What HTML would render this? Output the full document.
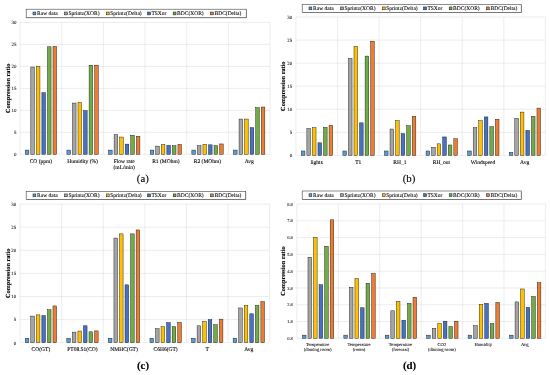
<!DOCTYPE html>
<html><head><meta charset="utf-8"><title>Compression ratio charts</title>
<style>
html,body{margin:0;padding:0;background:#fff;}
body{width:550px;height:375px;overflow:hidden;}
svg{display:block;text-rendering:geometricPrecision;font-family:"Liberation Serif","DejaVu Serif",serif;}
</style></head><body>
<svg width="550" height="375" viewBox="0 0 550 375">
<rect width="550" height="375" fill="#fff"/>
<g><line x1="20.1" y1="154.3" x2="270" y2="154.3" stroke="#D6D6D6" stroke-width="0.45"/>
<text x="16.4" y="156.12" font-size="4.9" text-anchor="end" fill="#111" stroke="#111" stroke-width="0.06">0</text>
<line x1="20.1" y1="132.32" x2="270" y2="132.32" stroke="#D6D6D6" stroke-width="0.45"/>
<text x="16.4" y="134.13" font-size="4.9" text-anchor="end" fill="#111" stroke="#111" stroke-width="0.06">5</text>
<line x1="20.1" y1="110.33" x2="270" y2="110.33" stroke="#D6D6D6" stroke-width="0.45"/>
<text x="16.4" y="112.15" font-size="4.9" text-anchor="end" fill="#111" stroke="#111" stroke-width="0.06">10</text>
<line x1="20.1" y1="88.35" x2="270" y2="88.35" stroke="#D6D6D6" stroke-width="0.45"/>
<text x="16.4" y="90.17" font-size="4.9" text-anchor="end" fill="#111" stroke="#111" stroke-width="0.06">15</text>
<line x1="20.1" y1="66.37" x2="270" y2="66.37" stroke="#D6D6D6" stroke-width="0.45"/>
<text x="16.4" y="68.18" font-size="4.9" text-anchor="end" fill="#111" stroke="#111" stroke-width="0.06">20</text>
<line x1="20.1" y1="44.38" x2="270" y2="44.38" stroke="#D6D6D6" stroke-width="0.45"/>
<text x="16.4" y="46.2" font-size="4.9" text-anchor="end" fill="#111" stroke="#111" stroke-width="0.06">25</text>
<line x1="20.1" y1="22.4" x2="270" y2="22.4" stroke="#D6D6D6" stroke-width="0.45"/>
<text x="16.4" y="24.22" font-size="4.9" text-anchor="end" fill="#111" stroke="#111" stroke-width="0.06">30</text>
<line x1="20.1" y1="22.4" x2="20.1" y2="154.3" stroke="#D6D6D6" stroke-width="0.45"/>
<line x1="61.75" y1="22.4" x2="61.75" y2="154.3" stroke="#D6D6D6" stroke-width="0.45"/>
<line x1="103.4" y1="22.4" x2="103.4" y2="154.3" stroke="#D6D6D6" stroke-width="0.45"/>
<line x1="145.05" y1="22.4" x2="145.05" y2="154.3" stroke="#D6D6D6" stroke-width="0.45"/>
<line x1="186.7" y1="22.4" x2="186.7" y2="154.3" stroke="#D6D6D6" stroke-width="0.45"/>
<line x1="228.35" y1="22.4" x2="228.35" y2="154.3" stroke="#D6D6D6" stroke-width="0.45"/>
<line x1="270" y1="22.4" x2="270" y2="154.3" stroke="#D6D6D6" stroke-width="0.45"/>
<rect x="25.25" y="150.1" width="3.6" height="4.2" fill="#5B9BD5" stroke="#151515" stroke-width="0.44"/>
<rect x="30.8" y="67.01" width="3.6" height="87.29" fill="#A5A5A5" stroke="#151515" stroke-width="0.44"/>
<rect x="36.35" y="66.35" width="3.6" height="87.95" fill="#FFC000" stroke="#151515" stroke-width="0.44"/>
<rect x="41.9" y="92.73" width="3.6" height="61.57" fill="#4472C4" stroke="#151515" stroke-width="0.44"/>
<rect x="47.45" y="46.78" width="3.6" height="107.52" fill="#70AD47" stroke="#151515" stroke-width="0.44"/>
<rect x="53" y="46.34" width="3.6" height="107.96" fill="#ED7D31" stroke="#151515" stroke-width="0.44"/>
<rect x="66.9" y="150.1" width="3.6" height="4.2" fill="#5B9BD5" stroke="#151515" stroke-width="0.44"/>
<rect x="72.45" y="103.06" width="3.6" height="51.24" fill="#A5A5A5" stroke="#151515" stroke-width="0.44"/>
<rect x="78" y="102.62" width="3.6" height="51.68" fill="#FFC000" stroke="#151515" stroke-width="0.44"/>
<rect x="83.55" y="110.71" width="3.6" height="43.59" fill="#4472C4" stroke="#151515" stroke-width="0.44"/>
<rect x="89.1" y="65.25" width="3.6" height="89.05" fill="#70AD47" stroke="#151515" stroke-width="0.44"/>
<rect x="94.65" y="65.25" width="3.6" height="89.05" fill="#ED7D31" stroke="#151515" stroke-width="0.44"/>
<rect x="108.55" y="150.1" width="3.6" height="4.2" fill="#5B9BD5" stroke="#151515" stroke-width="0.44"/>
<rect x="114.1" y="134.72" width="3.6" height="19.59" fill="#A5A5A5" stroke="#151515" stroke-width="0.44"/>
<rect x="119.65" y="137.05" width="3.6" height="17.25" fill="#FFC000" stroke="#151515" stroke-width="0.44"/>
<rect x="125.2" y="144.12" width="3.6" height="10.18" fill="#4472C4" stroke="#151515" stroke-width="0.44"/>
<rect x="130.75" y="135.24" width="3.6" height="19.06" fill="#70AD47" stroke="#151515" stroke-width="0.44"/>
<rect x="136.3" y="136.25" width="3.6" height="18.05" fill="#ED7D31" stroke="#151515" stroke-width="0.44"/>
<rect x="150.2" y="150.1" width="3.6" height="4.2" fill="#5B9BD5" stroke="#151515" stroke-width="0.44"/>
<rect x="155.75" y="146.15" width="3.6" height="8.15" fill="#A5A5A5" stroke="#151515" stroke-width="0.44"/>
<rect x="161.3" y="144.61" width="3.6" height="9.69" fill="#FFC000" stroke="#151515" stroke-width="0.44"/>
<rect x="166.85" y="145.4" width="3.6" height="8.9" fill="#4472C4" stroke="#151515" stroke-width="0.44"/>
<rect x="172.4" y="145.71" width="3.6" height="8.59" fill="#70AD47" stroke="#151515" stroke-width="0.44"/>
<rect x="177.95" y="144.39" width="3.6" height="9.91" fill="#ED7D31" stroke="#151515" stroke-width="0.44"/>
<rect x="191.85" y="150.1" width="3.6" height="4.2" fill="#5B9BD5" stroke="#151515" stroke-width="0.44"/>
<rect x="197.4" y="145.71" width="3.6" height="8.59" fill="#A5A5A5" stroke="#151515" stroke-width="0.44"/>
<rect x="202.95" y="144.39" width="3.6" height="9.91" fill="#FFC000" stroke="#151515" stroke-width="0.44"/>
<rect x="208.5" y="144.83" width="3.6" height="9.47" fill="#4472C4" stroke="#151515" stroke-width="0.44"/>
<rect x="214.05" y="145.71" width="3.6" height="8.59" fill="#70AD47" stroke="#151515" stroke-width="0.44"/>
<rect x="219.6" y="143.95" width="3.6" height="10.35" fill="#ED7D31" stroke="#151515" stroke-width="0.44"/>
<rect x="233.5" y="150.1" width="3.6" height="4.2" fill="#5B9BD5" stroke="#151515" stroke-width="0.44"/>
<rect x="239.05" y="119.06" width="3.6" height="35.24" fill="#A5A5A5" stroke="#151515" stroke-width="0.44"/>
<rect x="244.6" y="119.06" width="3.6" height="35.24" fill="#FFC000" stroke="#151515" stroke-width="0.44"/>
<rect x="250.15" y="127.68" width="3.6" height="26.62" fill="#4472C4" stroke="#151515" stroke-width="0.44"/>
<rect x="255.7" y="107.68" width="3.6" height="46.62" fill="#70AD47" stroke="#151515" stroke-width="0.44"/>
<rect x="261.25" y="107.02" width="3.6" height="47.28" fill="#ED7D31" stroke="#151515" stroke-width="0.44"/>
<text x="40.92" y="163" font-size="5.5" text-anchor="middle" fill="#000" stroke="#000" stroke-width="0.1">CO (ppm)</text>
<text x="82.57" y="163" font-size="5.5" text-anchor="middle" fill="#000" stroke="#000" stroke-width="0.1">Humidity (%)</text>
<text x="124.22" y="163" font-size="5.5" text-anchor="middle" fill="#000" stroke="#000" stroke-width="0.1">Flow rate</text>
<text x="124.22" y="168.6" font-size="5.5" text-anchor="middle" fill="#000" stroke="#000" stroke-width="0.1">(mL/min)</text>
<text x="165.88" y="163" font-size="5.5" text-anchor="middle" fill="#000" stroke="#000" stroke-width="0.1">R1 (MOhm)</text>
<text x="207.52" y="163" font-size="5.5" text-anchor="middle" fill="#000" stroke="#000" stroke-width="0.1">R2 (MOhm)</text>
<text x="249.17" y="163" font-size="5.5" text-anchor="middle" fill="#000" stroke="#000" stroke-width="0.1">Avg</text>
<text transform="translate(9.8,88.35) rotate(-90)" font-size="6.25" font-weight="bold" text-anchor="middle" fill="#000" stroke="#000" stroke-width="0.12">Compression ratio</text>
<rect x="26.7" y="9.7" width="220" height="8.5" fill="#999"/>
<rect x="26.2" y="9.2" width="220" height="8.5" fill="#fff" stroke="#454545" stroke-width="0.6"/>
<rect x="33" y="12.05" width="2.8" height="2.8" fill="#5B9BD5" stroke="#222" stroke-width="0.55"/>
<text x="37.1" y="15.25" font-size="5.5" fill="#000" stroke="#000" stroke-width="0.08">Raw data</text>
<rect x="64.6" y="12.05" width="2.8" height="2.8" fill="#A5A5A5" stroke="#222" stroke-width="0.55"/>
<text x="68.4" y="15.25" font-size="5.5" fill="#000" stroke="#000" stroke-width="0.08">Sprintz(XOR)</text>
<rect x="106.4" y="12.05" width="2.8" height="2.8" fill="#FFC000" stroke="#222" stroke-width="0.55"/>
<text x="110.2" y="15.25" font-size="5.5" fill="#000" stroke="#000" stroke-width="0.08">Sprintz(Delta)</text>
<rect x="147.7" y="12.05" width="2.8" height="2.8" fill="#4472C4" stroke="#222" stroke-width="0.55"/>
<text x="151.4" y="15.25" font-size="5.5" fill="#000" stroke="#000" stroke-width="0.08">TSXor</text>
<rect x="173.2" y="12.05" width="2.8" height="2.8" fill="#70AD47" stroke="#222" stroke-width="0.55"/>
<text x="177.1" y="15.25" font-size="5.5" fill="#000" stroke="#000" stroke-width="0.08">BDC(XOR)</text>
<rect x="210.5" y="12.05" width="2.8" height="2.8" fill="#ED7D31" stroke="#222" stroke-width="0.55"/>
<text x="214.5" y="15.25" font-size="5.5" fill="#000" stroke="#000" stroke-width="0.08">BDC(Delta)</text>
<text style="text-rendering:auto" x="142.8" y="181.5" font-size="10.8" text-anchor="middle" fill="#000" stroke="#000" stroke-width="0.1">(a)</text></g>
<g><line x1="295.9" y1="155.4" x2="545.4" y2="155.4" stroke="#D6D6D6" stroke-width="0.45"/>
<text x="292.2" y="157.22" font-size="4.9" text-anchor="end" fill="#111" stroke="#111" stroke-width="0.06">0</text>
<line x1="295.9" y1="132.33" x2="545.4" y2="132.33" stroke="#D6D6D6" stroke-width="0.45"/>
<text x="292.2" y="134.15" font-size="4.9" text-anchor="end" fill="#111" stroke="#111" stroke-width="0.06">5</text>
<line x1="295.9" y1="109.27" x2="545.4" y2="109.27" stroke="#D6D6D6" stroke-width="0.45"/>
<text x="292.2" y="111.08" font-size="4.9" text-anchor="end" fill="#111" stroke="#111" stroke-width="0.06">10</text>
<line x1="295.9" y1="86.2" x2="545.4" y2="86.2" stroke="#D6D6D6" stroke-width="0.45"/>
<text x="292.2" y="88.02" font-size="4.9" text-anchor="end" fill="#111" stroke="#111" stroke-width="0.06">15</text>
<line x1="295.9" y1="63.13" x2="545.4" y2="63.13" stroke="#D6D6D6" stroke-width="0.45"/>
<text x="292.2" y="64.95" font-size="4.9" text-anchor="end" fill="#111" stroke="#111" stroke-width="0.06">20</text>
<line x1="295.9" y1="40.07" x2="545.4" y2="40.07" stroke="#D6D6D6" stroke-width="0.45"/>
<text x="292.2" y="41.88" font-size="4.9" text-anchor="end" fill="#111" stroke="#111" stroke-width="0.06">25</text>
<line x1="295.9" y1="17" x2="545.4" y2="17" stroke="#D6D6D6" stroke-width="0.45"/>
<text x="292.2" y="18.82" font-size="4.9" text-anchor="end" fill="#111" stroke="#111" stroke-width="0.06">30</text>
<line x1="295.9" y1="17" x2="295.9" y2="155.4" stroke="#D6D6D6" stroke-width="0.45"/>
<line x1="337.48" y1="17" x2="337.48" y2="155.4" stroke="#D6D6D6" stroke-width="0.45"/>
<line x1="379.07" y1="17" x2="379.07" y2="155.4" stroke="#D6D6D6" stroke-width="0.45"/>
<line x1="420.65" y1="17" x2="420.65" y2="155.4" stroke="#D6D6D6" stroke-width="0.45"/>
<line x1="462.23" y1="17" x2="462.23" y2="155.4" stroke="#D6D6D6" stroke-width="0.45"/>
<line x1="503.82" y1="17" x2="503.82" y2="155.4" stroke="#D6D6D6" stroke-width="0.45"/>
<line x1="545.4" y1="17" x2="545.4" y2="155.4" stroke="#D6D6D6" stroke-width="0.45"/>
<rect x="301.32" y="150.99" width="3.6" height="4.41" fill="#5B9BD5" stroke="#151515" stroke-width="0.44"/>
<rect x="306.87" y="128.52" width="3.6" height="26.88" fill="#A5A5A5" stroke="#151515" stroke-width="0.44"/>
<rect x="312.42" y="127.69" width="3.6" height="27.71" fill="#FFC000" stroke="#151515" stroke-width="0.44"/>
<rect x="317.97" y="142.82" width="3.6" height="12.58" fill="#4472C4" stroke="#151515" stroke-width="0.44"/>
<rect x="323.52" y="127.46" width="3.6" height="27.94" fill="#70AD47" stroke="#151515" stroke-width="0.44"/>
<rect x="329.07" y="125.38" width="3.6" height="30.02" fill="#ED7D31" stroke="#151515" stroke-width="0.44"/>
<rect x="342.9" y="150.99" width="3.6" height="4.41" fill="#5B9BD5" stroke="#151515" stroke-width="0.44"/>
<rect x="348.45" y="58.4" width="3.6" height="97" fill="#A5A5A5" stroke="#151515" stroke-width="0.44"/>
<rect x="354" y="46.26" width="3.6" height="109.14" fill="#FFC000" stroke="#151515" stroke-width="0.44"/>
<rect x="359.55" y="122.85" width="3.6" height="32.55" fill="#4472C4" stroke="#151515" stroke-width="0.44"/>
<rect x="365.1" y="56.09" width="3.6" height="99.31" fill="#70AD47" stroke="#151515" stroke-width="0.44"/>
<rect x="370.65" y="41.19" width="3.6" height="114.21" fill="#ED7D31" stroke="#151515" stroke-width="0.44"/>
<rect x="384.48" y="150.99" width="3.6" height="4.41" fill="#5B9BD5" stroke="#151515" stroke-width="0.44"/>
<rect x="390.03" y="129.03" width="3.6" height="26.37" fill="#A5A5A5" stroke="#151515" stroke-width="0.44"/>
<rect x="395.58" y="120.77" width="3.6" height="34.63" fill="#FFC000" stroke="#151515" stroke-width="0.44"/>
<rect x="401.13" y="133.64" width="3.6" height="21.76" fill="#4472C4" stroke="#151515" stroke-width="0.44"/>
<rect x="406.68" y="125.71" width="3.6" height="29.69" fill="#70AD47" stroke="#151515" stroke-width="0.44"/>
<rect x="412.23" y="116.39" width="3.6" height="39.01" fill="#ED7D31" stroke="#151515" stroke-width="0.44"/>
<rect x="426.07" y="150.99" width="3.6" height="4.41" fill="#5B9BD5" stroke="#151515" stroke-width="0.44"/>
<rect x="431.62" y="147.3" width="3.6" height="8.1" fill="#A5A5A5" stroke="#151515" stroke-width="0.44"/>
<rect x="437.17" y="143.84" width="3.6" height="11.56" fill="#FFC000" stroke="#151515" stroke-width="0.44"/>
<rect x="442.72" y="136.96" width="3.6" height="18.44" fill="#4472C4" stroke="#151515" stroke-width="0.44"/>
<rect x="448.27" y="144.99" width="3.6" height="10.41" fill="#70AD47" stroke="#151515" stroke-width="0.44"/>
<rect x="453.82" y="138.76" width="3.6" height="16.64" fill="#ED7D31" stroke="#151515" stroke-width="0.44"/>
<rect x="467.65" y="150.99" width="3.6" height="4.41" fill="#5B9BD5" stroke="#151515" stroke-width="0.44"/>
<rect x="473.2" y="127.69" width="3.6" height="27.71" fill="#A5A5A5" stroke="#151515" stroke-width="0.44"/>
<rect x="478.75" y="120.77" width="3.6" height="34.63" fill="#FFC000" stroke="#151515" stroke-width="0.44"/>
<rect x="484.3" y="116.94" width="3.6" height="38.46" fill="#4472C4" stroke="#151515" stroke-width="0.44"/>
<rect x="489.85" y="126.67" width="3.6" height="28.73" fill="#70AD47" stroke="#151515" stroke-width="0.44"/>
<rect x="495.4" y="119.25" width="3.6" height="36.15" fill="#ED7D31" stroke="#151515" stroke-width="0.44"/>
<rect x="509.23" y="152.37" width="3.6" height="3.03" fill="#5B9BD5" stroke="#151515" stroke-width="0.44"/>
<rect x="514.78" y="118.23" width="3.6" height="37.17" fill="#A5A5A5" stroke="#151515" stroke-width="0.44"/>
<rect x="520.33" y="112.1" width="3.6" height="43.3" fill="#FFC000" stroke="#151515" stroke-width="0.44"/>
<rect x="525.88" y="130.5" width="3.6" height="24.9" fill="#4472C4" stroke="#151515" stroke-width="0.44"/>
<rect x="531.43" y="116.39" width="3.6" height="39.01" fill="#70AD47" stroke="#151515" stroke-width="0.44"/>
<rect x="536.98" y="108.08" width="3.6" height="47.32" fill="#ED7D31" stroke="#151515" stroke-width="0.44"/>
<text x="316.69" y="163.8" font-size="5.5" text-anchor="middle" fill="#000" stroke="#000" stroke-width="0.1">lights</text>
<text x="358.27" y="163.8" font-size="5.5" text-anchor="middle" fill="#000" stroke="#000" stroke-width="0.1">T1</text>
<text x="399.86" y="163.8" font-size="5.5" text-anchor="middle" fill="#000" stroke="#000" stroke-width="0.1">RH_1</text>
<text x="441.44" y="163.8" font-size="5.5" text-anchor="middle" fill="#000" stroke="#000" stroke-width="0.1">RH_out</text>
<text x="483.02" y="163.8" font-size="5.5" text-anchor="middle" fill="#000" stroke="#000" stroke-width="0.1">Windspeed</text>
<text x="524.61" y="163.8" font-size="5.5" text-anchor="middle" fill="#000" stroke="#000" stroke-width="0.1">Avg</text>
<text transform="translate(284.6,86.2) rotate(-90)" font-size="6.25" font-weight="bold" text-anchor="middle" fill="#000" stroke="#000" stroke-width="0.12">Compression ratio</text>
<rect x="302.7" y="4.8" width="219" height="8.1" fill="#999"/>
<rect x="302.2" y="4.3" width="219" height="8.1" fill="#fff" stroke="#454545" stroke-width="0.6"/>
<rect x="309" y="6.95" width="2.8" height="2.8" fill="#5B9BD5" stroke="#222" stroke-width="0.55"/>
<text x="313.1" y="10.15" font-size="5.5" fill="#000" stroke="#000" stroke-width="0.08">Raw data</text>
<rect x="340.6" y="6.95" width="2.8" height="2.8" fill="#A5A5A5" stroke="#222" stroke-width="0.55"/>
<text x="344.4" y="10.15" font-size="5.5" fill="#000" stroke="#000" stroke-width="0.08">Sprintz(XOR)</text>
<rect x="382.4" y="6.95" width="2.8" height="2.8" fill="#FFC000" stroke="#222" stroke-width="0.55"/>
<text x="386.2" y="10.15" font-size="5.5" fill="#000" stroke="#000" stroke-width="0.08">Sprintz(Delta)</text>
<rect x="423.7" y="6.95" width="2.8" height="2.8" fill="#4472C4" stroke="#222" stroke-width="0.55"/>
<text x="427.4" y="10.15" font-size="5.5" fill="#000" stroke="#000" stroke-width="0.08">TSXor</text>
<rect x="449.2" y="6.95" width="2.8" height="2.8" fill="#70AD47" stroke="#222" stroke-width="0.55"/>
<text x="453.1" y="10.15" font-size="5.5" fill="#000" stroke="#000" stroke-width="0.08">BDC(XOR)</text>
<rect x="486.5" y="6.95" width="2.8" height="2.8" fill="#ED7D31" stroke="#222" stroke-width="0.55"/>
<text x="490.5" y="10.15" font-size="5.5" fill="#000" stroke="#000" stroke-width="0.08">BDC(Delta)</text>
<text style="text-rendering:auto" x="409" y="181.5" font-size="10.8" text-anchor="middle" fill="#000" stroke="#000" stroke-width="0.1">(b)</text></g>
<g><line x1="20.1" y1="342.7" x2="269.6" y2="342.7" stroke="#D6D6D6" stroke-width="0.45"/>
<text x="16.2" y="344.52" font-size="4.9" text-anchor="end" fill="#111" stroke="#111" stroke-width="0.06">0</text>
<line x1="20.1" y1="319.6" x2="269.6" y2="319.6" stroke="#D6D6D6" stroke-width="0.45"/>
<text x="16.2" y="321.42" font-size="4.9" text-anchor="end" fill="#111" stroke="#111" stroke-width="0.06">5</text>
<line x1="20.1" y1="296.5" x2="269.6" y2="296.5" stroke="#D6D6D6" stroke-width="0.45"/>
<text x="16.2" y="298.32" font-size="4.9" text-anchor="end" fill="#111" stroke="#111" stroke-width="0.06">10</text>
<line x1="20.1" y1="273.4" x2="269.6" y2="273.4" stroke="#D6D6D6" stroke-width="0.45"/>
<text x="16.2" y="275.22" font-size="4.9" text-anchor="end" fill="#111" stroke="#111" stroke-width="0.06">15</text>
<line x1="20.1" y1="250.3" x2="269.6" y2="250.3" stroke="#D6D6D6" stroke-width="0.45"/>
<text x="16.2" y="252.12" font-size="4.9" text-anchor="end" fill="#111" stroke="#111" stroke-width="0.06">20</text>
<line x1="20.1" y1="227.2" x2="269.6" y2="227.2" stroke="#D6D6D6" stroke-width="0.45"/>
<text x="16.2" y="229.02" font-size="4.9" text-anchor="end" fill="#111" stroke="#111" stroke-width="0.06">25</text>
<line x1="20.1" y1="204.1" x2="269.6" y2="204.1" stroke="#D6D6D6" stroke-width="0.45"/>
<text x="16.2" y="205.92" font-size="4.9" text-anchor="end" fill="#111" stroke="#111" stroke-width="0.06">30</text>
<line x1="20.1" y1="204.1" x2="20.1" y2="342.7" stroke="#D6D6D6" stroke-width="0.45"/>
<line x1="61.68" y1="204.1" x2="61.68" y2="342.7" stroke="#D6D6D6" stroke-width="0.45"/>
<line x1="103.27" y1="204.1" x2="103.27" y2="342.7" stroke="#D6D6D6" stroke-width="0.45"/>
<line x1="144.85" y1="204.1" x2="144.85" y2="342.7" stroke="#D6D6D6" stroke-width="0.45"/>
<line x1="186.43" y1="204.1" x2="186.43" y2="342.7" stroke="#D6D6D6" stroke-width="0.45"/>
<line x1="228.02" y1="204.1" x2="228.02" y2="342.7" stroke="#D6D6D6" stroke-width="0.45"/>
<line x1="269.6" y1="204.1" x2="269.6" y2="342.7" stroke="#D6D6D6" stroke-width="0.45"/>
<rect x="25.22" y="338.28" width="3.6" height="4.42" fill="#5B9BD5" stroke="#151515" stroke-width="0.44"/>
<rect x="30.77" y="316.1" width="3.6" height="26.6" fill="#A5A5A5" stroke="#151515" stroke-width="0.44"/>
<rect x="36.32" y="314.86" width="3.6" height="27.84" fill="#FFC000" stroke="#151515" stroke-width="0.44"/>
<rect x="41.87" y="315.64" width="3.6" height="27.06" fill="#4472C4" stroke="#151515" stroke-width="0.44"/>
<rect x="47.42" y="309.77" width="3.6" height="32.93" fill="#70AD47" stroke="#151515" stroke-width="0.44"/>
<rect x="52.97" y="305.94" width="3.6" height="36.76" fill="#ED7D31" stroke="#151515" stroke-width="0.44"/>
<rect x="66.8" y="338.28" width="3.6" height="4.42" fill="#5B9BD5" stroke="#151515" stroke-width="0.44"/>
<rect x="72.35" y="332.14" width="3.6" height="10.56" fill="#A5A5A5" stroke="#151515" stroke-width="0.44"/>
<rect x="77.9" y="331.03" width="3.6" height="11.67" fill="#FFC000" stroke="#151515" stroke-width="0.44"/>
<rect x="83.45" y="325.81" width="3.6" height="16.89" fill="#4472C4" stroke="#151515" stroke-width="0.44"/>
<rect x="89" y="331.81" width="3.6" height="10.89" fill="#70AD47" stroke="#151515" stroke-width="0.44"/>
<rect x="94.55" y="330.89" width="3.6" height="11.81" fill="#ED7D31" stroke="#151515" stroke-width="0.44"/>
<rect x="108.38" y="338.28" width="3.6" height="4.42" fill="#5B9BD5" stroke="#151515" stroke-width="0.44"/>
<rect x="113.93" y="238.03" width="3.6" height="104.67" fill="#A5A5A5" stroke="#151515" stroke-width="0.44"/>
<rect x="119.48" y="233.87" width="3.6" height="108.83" fill="#FFC000" stroke="#151515" stroke-width="0.44"/>
<rect x="125.03" y="284.83" width="3.6" height="57.87" fill="#4472C4" stroke="#151515" stroke-width="0.44"/>
<rect x="130.58" y="233.87" width="3.6" height="108.83" fill="#70AD47" stroke="#151515" stroke-width="0.44"/>
<rect x="136.13" y="229.94" width="3.6" height="112.76" fill="#ED7D31" stroke="#151515" stroke-width="0.44"/>
<rect x="149.97" y="338.28" width="3.6" height="4.42" fill="#5B9BD5" stroke="#151515" stroke-width="0.44"/>
<rect x="155.52" y="328.76" width="3.6" height="13.94" fill="#A5A5A5" stroke="#151515" stroke-width="0.44"/>
<rect x="161.07" y="326.73" width="3.6" height="15.97" fill="#FFC000" stroke="#151515" stroke-width="0.44"/>
<rect x="166.62" y="322.66" width="3.6" height="20.04" fill="#4472C4" stroke="#151515" stroke-width="0.44"/>
<rect x="172.17" y="326.73" width="3.6" height="15.97" fill="#70AD47" stroke="#151515" stroke-width="0.44"/>
<rect x="177.72" y="322.43" width="3.6" height="20.27" fill="#ED7D31" stroke="#151515" stroke-width="0.44"/>
<rect x="191.55" y="338.28" width="3.6" height="4.42" fill="#5B9BD5" stroke="#151515" stroke-width="0.44"/>
<rect x="197.1" y="325.81" width="3.6" height="16.89" fill="#A5A5A5" stroke="#151515" stroke-width="0.44"/>
<rect x="202.65" y="321.65" width="3.6" height="21.05" fill="#FFC000" stroke="#151515" stroke-width="0.44"/>
<rect x="208.2" y="319.66" width="3.6" height="23.04" fill="#4472C4" stroke="#151515" stroke-width="0.44"/>
<rect x="213.75" y="324.74" width="3.6" height="17.96" fill="#70AD47" stroke="#151515" stroke-width="0.44"/>
<rect x="219.3" y="319.15" width="3.6" height="23.55" fill="#ED7D31" stroke="#151515" stroke-width="0.44"/>
<rect x="233.13" y="338.28" width="3.6" height="4.42" fill="#5B9BD5" stroke="#151515" stroke-width="0.44"/>
<rect x="238.68" y="307.97" width="3.6" height="34.73" fill="#A5A5A5" stroke="#151515" stroke-width="0.44"/>
<rect x="244.23" y="305.66" width="3.6" height="37.04" fill="#FFC000" stroke="#151515" stroke-width="0.44"/>
<rect x="249.78" y="313.79" width="3.6" height="28.91" fill="#4472C4" stroke="#151515" stroke-width="0.44"/>
<rect x="255.33" y="305.48" width="3.6" height="37.22" fill="#70AD47" stroke="#151515" stroke-width="0.44"/>
<rect x="260.88" y="301.6" width="3.6" height="41.1" fill="#ED7D31" stroke="#151515" stroke-width="0.44"/>
<text x="40.89" y="351" font-size="5.5" text-anchor="middle" fill="#000" stroke="#000" stroke-width="0.1">CO(GT)</text>
<text x="82.47" y="351" font-size="5.5" text-anchor="middle" fill="#000" stroke="#000" stroke-width="0.1">PT08.S1(CO)</text>
<text x="124.06" y="351" font-size="5.5" text-anchor="middle" fill="#000" stroke="#000" stroke-width="0.1">NMHC(GT)</text>
<text x="165.64" y="351" font-size="5.5" text-anchor="middle" fill="#000" stroke="#000" stroke-width="0.1">C6H6(GT)</text>
<text x="207.22" y="351" font-size="5.5" text-anchor="middle" fill="#000" stroke="#000" stroke-width="0.1">T</text>
<text x="248.81" y="351" font-size="5.5" text-anchor="middle" fill="#000" stroke="#000" stroke-width="0.1">Avg</text>
<text transform="translate(9.6,273.4) rotate(-90)" font-size="6.25" font-weight="bold" text-anchor="middle" fill="#000" stroke="#000" stroke-width="0.12">Compression ratio</text>
<rect x="26.7" y="191.9" width="219.5" height="7.9" fill="#999"/>
<rect x="26.2" y="191.4" width="219.5" height="7.9" fill="#fff" stroke="#454545" stroke-width="0.6"/>
<rect x="33" y="193.95" width="2.8" height="2.8" fill="#5B9BD5" stroke="#222" stroke-width="0.55"/>
<text x="37.1" y="197.15" font-size="5.5" fill="#000" stroke="#000" stroke-width="0.08">Raw data</text>
<rect x="64.6" y="193.95" width="2.8" height="2.8" fill="#A5A5A5" stroke="#222" stroke-width="0.55"/>
<text x="68.4" y="197.15" font-size="5.5" fill="#000" stroke="#000" stroke-width="0.08">Sprintz(XOR)</text>
<rect x="106.4" y="193.95" width="2.8" height="2.8" fill="#FFC000" stroke="#222" stroke-width="0.55"/>
<text x="110.2" y="197.15" font-size="5.5" fill="#000" stroke="#000" stroke-width="0.08">Sprintz(Delta)</text>
<rect x="147.7" y="193.95" width="2.8" height="2.8" fill="#4472C4" stroke="#222" stroke-width="0.55"/>
<text x="151.4" y="197.15" font-size="5.5" fill="#000" stroke="#000" stroke-width="0.08">TSXor</text>
<rect x="173.2" y="193.95" width="2.8" height="2.8" fill="#70AD47" stroke="#222" stroke-width="0.55"/>
<text x="177.1" y="197.15" font-size="5.5" fill="#000" stroke="#000" stroke-width="0.08">BDC(XOR)</text>
<rect x="210.5" y="193.95" width="2.8" height="2.8" fill="#ED7D31" stroke="#222" stroke-width="0.55"/>
<text x="214.5" y="197.15" font-size="5.5" fill="#000" stroke="#000" stroke-width="0.08">BDC(Delta)</text>
<text style="text-rendering:auto" x="143" y="369" font-size="10.8" font-weight="bold" text-anchor="middle" fill="#000" stroke="#000" stroke-width="0.12">(c)</text></g>
<g><line x1="296.9" y1="338.3" x2="545.4" y2="338.3" stroke="#D6D6D6" stroke-width="0.45"/>
<text x="292.8" y="339.99" font-size="4.5" text-anchor="end" fill="#111" stroke="#111" stroke-width="0.06">0.8</text>
<line x1="296.9" y1="321.51" x2="545.4" y2="321.51" stroke="#D6D6D6" stroke-width="0.45"/>
<text x="292.8" y="323.2" font-size="4.5" text-anchor="end" fill="#111" stroke="#111" stroke-width="0.06">1.8</text>
<line x1="296.9" y1="304.73" x2="545.4" y2="304.73" stroke="#D6D6D6" stroke-width="0.45"/>
<text x="292.8" y="306.41" font-size="4.5" text-anchor="end" fill="#111" stroke="#111" stroke-width="0.06">2.8</text>
<line x1="296.9" y1="287.94" x2="545.4" y2="287.94" stroke="#D6D6D6" stroke-width="0.45"/>
<text x="292.8" y="289.62" font-size="4.5" text-anchor="end" fill="#111" stroke="#111" stroke-width="0.06">3.8</text>
<line x1="296.9" y1="271.15" x2="545.4" y2="271.15" stroke="#D6D6D6" stroke-width="0.45"/>
<text x="292.8" y="272.83" font-size="4.5" text-anchor="end" fill="#111" stroke="#111" stroke-width="0.06">4.8</text>
<line x1="296.9" y1="254.36" x2="545.4" y2="254.36" stroke="#D6D6D6" stroke-width="0.45"/>
<text x="292.8" y="256.05" font-size="4.5" text-anchor="end" fill="#111" stroke="#111" stroke-width="0.06">5.8</text>
<line x1="296.9" y1="237.57" x2="545.4" y2="237.57" stroke="#D6D6D6" stroke-width="0.45"/>
<text x="292.8" y="239.26" font-size="4.5" text-anchor="end" fill="#111" stroke="#111" stroke-width="0.06">6.8</text>
<line x1="296.9" y1="220.79" x2="545.4" y2="220.79" stroke="#D6D6D6" stroke-width="0.45"/>
<text x="292.8" y="222.47" font-size="4.5" text-anchor="end" fill="#111" stroke="#111" stroke-width="0.06">7.8</text>
<line x1="296.9" y1="204" x2="545.4" y2="204" stroke="#D6D6D6" stroke-width="0.45"/>
<text x="292.8" y="205.69" font-size="4.5" text-anchor="end" fill="#111" stroke="#111" stroke-width="0.06">8.8</text>
<line x1="296.9" y1="204" x2="296.9" y2="338.3" stroke="#D6D6D6" stroke-width="0.45"/>
<line x1="338.32" y1="204" x2="338.32" y2="338.3" stroke="#D6D6D6" stroke-width="0.45"/>
<line x1="379.73" y1="204" x2="379.73" y2="338.3" stroke="#D6D6D6" stroke-width="0.45"/>
<line x1="421.15" y1="204" x2="421.15" y2="338.3" stroke="#D6D6D6" stroke-width="0.45"/>
<line x1="462.57" y1="204" x2="462.57" y2="338.3" stroke="#D6D6D6" stroke-width="0.45"/>
<line x1="503.98" y1="204" x2="503.98" y2="338.3" stroke="#D6D6D6" stroke-width="0.45"/>
<line x1="545.4" y1="204" x2="545.4" y2="338.3" stroke="#D6D6D6" stroke-width="0.45"/>
<rect x="302.43" y="335.14" width="3.6" height="3.16" fill="#5B9BD5" stroke="#151515" stroke-width="0.44"/>
<rect x="307.98" y="257.25" width="3.6" height="81.05" fill="#A5A5A5" stroke="#151515" stroke-width="0.44"/>
<rect x="313.53" y="237.44" width="3.6" height="100.86" fill="#FFC000" stroke="#151515" stroke-width="0.44"/>
<rect x="319.08" y="284.78" width="3.6" height="53.52" fill="#4472C4" stroke="#151515" stroke-width="0.44"/>
<rect x="324.63" y="246.34" width="3.6" height="91.96" fill="#70AD47" stroke="#151515" stroke-width="0.44"/>
<rect x="330.18" y="219.81" width="3.6" height="118.49" fill="#ED7D31" stroke="#151515" stroke-width="0.44"/>
<rect x="343.85" y="335.14" width="3.6" height="3.16" fill="#5B9BD5" stroke="#151515" stroke-width="0.44"/>
<rect x="349.4" y="287.3" width="3.6" height="51" fill="#A5A5A5" stroke="#151515" stroke-width="0.44"/>
<rect x="354.95" y="278.57" width="3.6" height="59.73" fill="#FFC000" stroke="#151515" stroke-width="0.44"/>
<rect x="360.5" y="307.78" width="3.6" height="30.52" fill="#4472C4" stroke="#151515" stroke-width="0.44"/>
<rect x="366.05" y="283.27" width="3.6" height="55.03" fill="#70AD47" stroke="#151515" stroke-width="0.44"/>
<rect x="371.6" y="273.53" width="3.6" height="64.77" fill="#ED7D31" stroke="#151515" stroke-width="0.44"/>
<rect x="385.27" y="335.14" width="3.6" height="3.16" fill="#5B9BD5" stroke="#151515" stroke-width="0.44"/>
<rect x="390.82" y="310.8" width="3.6" height="27.5" fill="#A5A5A5" stroke="#151515" stroke-width="0.44"/>
<rect x="396.37" y="301.4" width="3.6" height="36.9" fill="#FFC000" stroke="#151515" stroke-width="0.44"/>
<rect x="401.92" y="320.2" width="3.6" height="18.1" fill="#4472C4" stroke="#151515" stroke-width="0.44"/>
<rect x="407.47" y="303.41" width="3.6" height="34.89" fill="#70AD47" stroke="#151515" stroke-width="0.44"/>
<rect x="413.02" y="297.2" width="3.6" height="41.1" fill="#ED7D31" stroke="#151515" stroke-width="0.44"/>
<rect x="426.68" y="335.14" width="3.6" height="3.16" fill="#5B9BD5" stroke="#151515" stroke-width="0.44"/>
<rect x="432.23" y="328.26" width="3.6" height="10.04" fill="#A5A5A5" stroke="#151515" stroke-width="0.44"/>
<rect x="437.78" y="323.56" width="3.6" height="14.74" fill="#FFC000" stroke="#151515" stroke-width="0.44"/>
<rect x="443.33" y="321.21" width="3.6" height="17.09" fill="#4472C4" stroke="#151515" stroke-width="0.44"/>
<rect x="448.88" y="326.58" width="3.6" height="11.72" fill="#70AD47" stroke="#151515" stroke-width="0.44"/>
<rect x="454.43" y="321.21" width="3.6" height="17.09" fill="#ED7D31" stroke="#151515" stroke-width="0.44"/>
<rect x="468.1" y="335.14" width="3.6" height="3.16" fill="#5B9BD5" stroke="#151515" stroke-width="0.44"/>
<rect x="473.65" y="325.74" width="3.6" height="12.56" fill="#A5A5A5" stroke="#151515" stroke-width="0.44"/>
<rect x="479.2" y="304.42" width="3.6" height="33.88" fill="#FFC000" stroke="#151515" stroke-width="0.44"/>
<rect x="484.75" y="303.41" width="3.6" height="34.89" fill="#4472C4" stroke="#151515" stroke-width="0.44"/>
<rect x="490.3" y="323.56" width="3.6" height="14.74" fill="#70AD47" stroke="#151515" stroke-width="0.44"/>
<rect x="495.85" y="302.41" width="3.6" height="35.89" fill="#ED7D31" stroke="#151515" stroke-width="0.44"/>
<rect x="509.52" y="335.14" width="3.6" height="3.16" fill="#5B9BD5" stroke="#151515" stroke-width="0.44"/>
<rect x="515.07" y="301.9" width="3.6" height="36.4" fill="#A5A5A5" stroke="#151515" stroke-width="0.44"/>
<rect x="520.62" y="288.98" width="3.6" height="49.32" fill="#FFC000" stroke="#151515" stroke-width="0.44"/>
<rect x="526.17" y="307.44" width="3.6" height="30.86" fill="#4472C4" stroke="#151515" stroke-width="0.44"/>
<rect x="531.72" y="296.53" width="3.6" height="41.77" fill="#70AD47" stroke="#151515" stroke-width="0.44"/>
<rect x="537.27" y="282.77" width="3.6" height="55.53" fill="#ED7D31" stroke="#151515" stroke-width="0.44"/>
<text x="317.61" y="345.6" font-size="4.6" text-anchor="middle" fill="#000" stroke="#000" stroke-width="0.05">Temperature</text>
<text x="317.61" y="350.9" font-size="4.6" text-anchor="middle" fill="#000" stroke="#000" stroke-width="0.05">(dinning room)</text>
<text x="359.02" y="345.6" font-size="4.6" text-anchor="middle" fill="#000" stroke="#000" stroke-width="0.05">Temperature</text>
<text x="359.02" y="350.9" font-size="4.6" text-anchor="middle" fill="#000" stroke="#000" stroke-width="0.05">(room)</text>
<text x="400.44" y="345.6" font-size="4.6" text-anchor="middle" fill="#000" stroke="#000" stroke-width="0.05">Temperature</text>
<text x="400.44" y="350.9" font-size="4.6" text-anchor="middle" fill="#000" stroke="#000" stroke-width="0.05">(forecast)</text>
<text x="441.86" y="345.6" font-size="4.6" text-anchor="middle" fill="#000" stroke="#000" stroke-width="0.05">CO2</text>
<text x="441.86" y="350.9" font-size="4.6" text-anchor="middle" fill="#000" stroke="#000" stroke-width="0.05">(dinning room)</text>
<text x="483.27" y="345.6" font-size="4.6" text-anchor="middle" fill="#000" stroke="#000" stroke-width="0.05">Humidity</text>
<text x="524.69" y="345.6" font-size="4.6" text-anchor="middle" fill="#000" stroke="#000" stroke-width="0.05">Avg</text>
<text transform="translate(284.6,271.15) rotate(-90)" font-size="6.25" font-weight="bold" text-anchor="middle" fill="#000" stroke="#000" stroke-width="0.12">Compression ratio</text>
<rect x="302.7" y="191.5" width="219" height="8.3" fill="#999"/>
<rect x="302.2" y="191" width="219" height="8.3" fill="#fff" stroke="#454545" stroke-width="0.6"/>
<rect x="309" y="193.75" width="2.8" height="2.8" fill="#5B9BD5" stroke="#222" stroke-width="0.55"/>
<text x="313.1" y="196.95" font-size="5.5" fill="#000" stroke="#000" stroke-width="0.08">Raw data</text>
<rect x="340.6" y="193.75" width="2.8" height="2.8" fill="#A5A5A5" stroke="#222" stroke-width="0.55"/>
<text x="344.4" y="196.95" font-size="5.5" fill="#000" stroke="#000" stroke-width="0.08">Sprintz(XOR)</text>
<rect x="382.4" y="193.75" width="2.8" height="2.8" fill="#FFC000" stroke="#222" stroke-width="0.55"/>
<text x="386.2" y="196.95" font-size="5.5" fill="#000" stroke="#000" stroke-width="0.08">Sprintz(Delta)</text>
<rect x="423.7" y="193.75" width="2.8" height="2.8" fill="#4472C4" stroke="#222" stroke-width="0.55"/>
<text x="427.4" y="196.95" font-size="5.5" fill="#000" stroke="#000" stroke-width="0.08">TSXor</text>
<rect x="449.2" y="193.75" width="2.8" height="2.8" fill="#70AD47" stroke="#222" stroke-width="0.55"/>
<text x="453.1" y="196.95" font-size="5.5" fill="#000" stroke="#000" stroke-width="0.08">BDC(XOR)</text>
<rect x="486.5" y="193.75" width="2.8" height="2.8" fill="#ED7D31" stroke="#222" stroke-width="0.55"/>
<text x="490.5" y="196.95" font-size="5.5" fill="#000" stroke="#000" stroke-width="0.08">BDC(Delta)</text>
<text style="text-rendering:auto" x="409.5" y="369" font-size="10.8" font-weight="bold" text-anchor="middle" fill="#000" stroke="#000" stroke-width="0.12">(d)</text></g>
</svg>
</body></html>
